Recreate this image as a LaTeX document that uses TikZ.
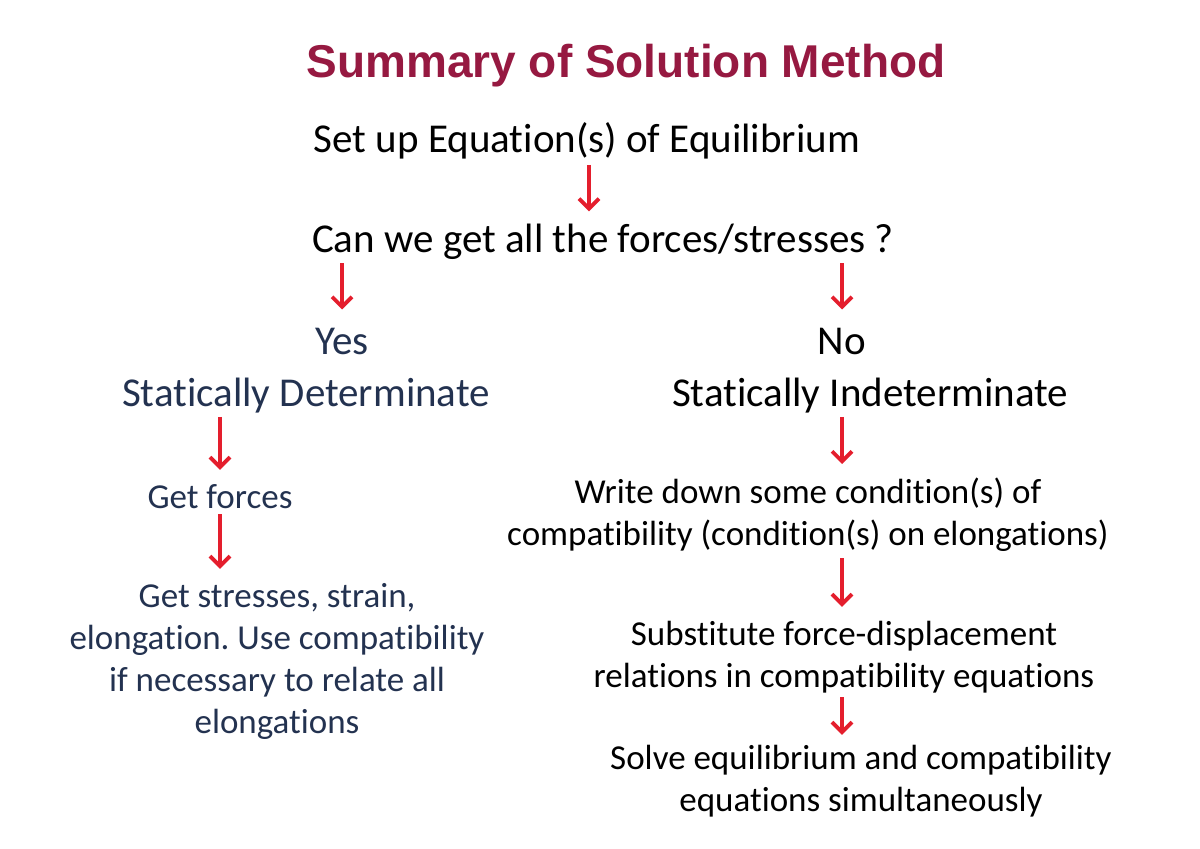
\documentclass[tikz,border=0pt]{standalone}
\usepackage{fontspec}
\setmainfont{Carlito}[Ligatures=NoCommon]
\newfontfamily\titlefont{Liberation Sans}
\frenchspacing
\usetikzlibrary{
  arrows.meta,
  positioning,
}
\tikzset{
  >={Straight Barb[length=10pt,width=20pt]},
}
\definecolor{sm_title}{RGB}{150,25,65}
\definecolor{sm_navy}{RGB}{35,50,80}
\definecolor{sm_red}{RGB}{228,30,45}

\begin{document}
\begin{tikzpicture}[x=1pt,y=-1pt,
    big/.style={inner sep=0pt, anchor=base, font=\fontsize{41}{48}\selectfont},
    small/.style={inner sep=0pt, align=center, font=\fontsize{35}{42}\selectfont},
    flow/.style={->, draw=sm_red, line width=3.8pt},
  ]
  \useasboundingbox (0,0) rectangle (1200,849);

  % heading
  \node[inner sep=0pt, anchor=base, text=sm_title,
        font=\titlefont\bfseries\fontsize{46}{50}\selectfont] (title) at (626,77)
        {Summary of Solution Method};

  % the question
  \node[big] (setup) at (587,152) {Set up Equation(s) of Equilibrium};
  \node[big] (ask) at (603,252) {Can we get all the forces/stresses ?};

  % left branch
  \node[big, text=sm_navy] (yes) at (342,354) {Yes};
  \node[big, text=sm_navy] (det) at (306,406) {Statically Determinate};
  \node[small, anchor=base, text=sm_navy] (forces) at (220,508) {Get forces};
  \node[small, text=sm_navy] (stress) at (277,661)
        {Get stresses, strain,\\elongation. Use compatibility\\if necessary to relate all\\elongations};

  % right branch
  \node[big] (no) at (842,354) {No};
  \node[big] (indet) at (870,406) {Statically Indeterminate};
  \node[small] (write) at (808,515) {Write down some condition(s) of\\compatibility (condition(s) on elongations)};
  \node[small] (subst) at (844,657) {Substitute force-displacement\\relations in compatibility equations};
  \node[small] (solve) at (861,781) {Solve equilibrium and compatibility\\equations simultaneously};

  % arrows
  \draw[flow, shorten <=6pt, shorten >=12pt] ([xshift=2pt]setup.south) -- ([xshift=2pt]setup.south |- ask.north);
  \draw[flow, shorten <=4pt, shorten >=18pt] (yes |- ask.south) -- (yes.north);
  \draw[flow, shorten <=4pt, shorten >=18pt] (no |- ask.south) -- (no.north);
  \draw[flow, shorten <=4pt, shorten >=14pt] (forces |- det.south) -- (forces.north);
  \draw[flow, shorten <=4pt, shorten >=14pt] (no |- indet.south) -- (no |- write.north);
  \draw[flow, shorten <=6pt, shorten >=14pt] (forces.south) -- (forces.south |- stress.north);
  \draw[flow, shorten <=6pt, shorten >=14pt] (no |- write.south) -- (no |- subst.north);
  \draw[flow, shorten <=4pt, shorten >=10pt] (no |- subst.south) -- (no |- solve.north);
\end{tikzpicture}
\end{document}
